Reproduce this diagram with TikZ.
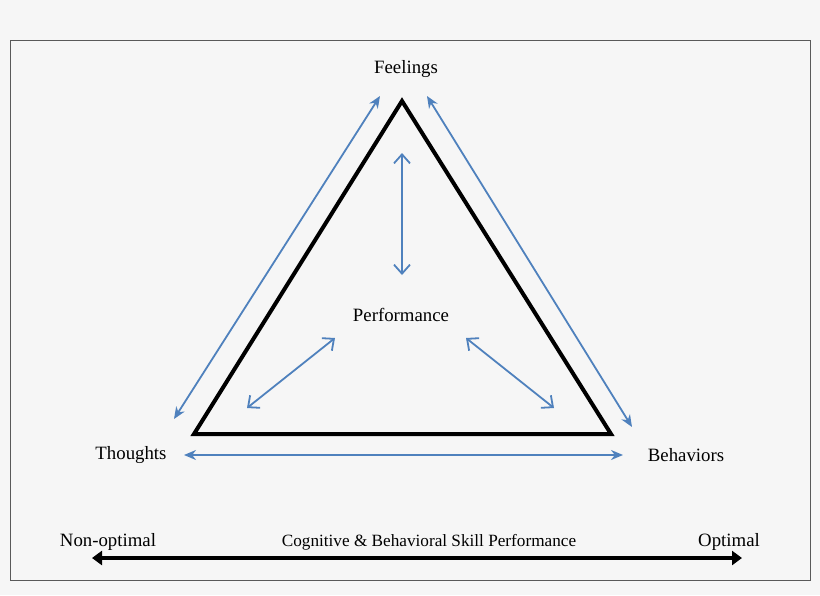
\documentclass[tikz,border=0pt]{standalone}
\usepackage{fontspec}
\setmainfont{Liberation Serif}
\usetikzlibrary{arrows.meta}
\definecolor{linkblue}{HTML}{4F81BD}
\definecolor{paper}{HTML}{F6F6F6}
\tikzset{
  link/.style={draw=linkblue, line width=0.9pt, {Stealth[length=6pt,width=5pt]}-{Stealth[length=6pt,width=5pt]}},
  innerlink/.style={draw=linkblue, line width=0.9pt, {Straight Barb[length=4.5pt,width=8pt]}-{Straight Barb[length=4.5pt,width=8pt]}},
  label/.style={font=\fontsize{9.4}{11}\selectfont, inner sep=0pt}
}

\begin{document}
\begin{tikzpicture}[x=0.5pt, y=-0.5pt]
\useasboundingbox[fill=paper] (0,0) rectangle (820,595);
\draw[gray!70!black, line width=0.5pt] (10,40) rectangle (810,580);
% triangle
\coordinate (feel) at (402,101);
\coordinate (thought) at (194,434);
\coordinate (behave) at (611,434);
\draw[line width=2pt, line join=miter]
(feel) -- (behave) -- (thought) -- cycle;
\node[label] (feelings) at (406,69) {Feelings};
\node[label] (perf) at (401,315) {Performance};
\node[label] (thoughts) at (131,455) {Thoughts};
\node[label] (behaviors) at (686,455) {Behaviors};
% outer links
\coordinate (l1) at (174,419); \coordinate (l2) at (380,96);
\coordinate (r1) at (427,96); \coordinate (r2) at (632,427);
\coordinate (b1) at (184,455); \coordinate (b2) at (623,455);
\draw[link] (l1) -- (l2);
\draw[link] (r1) -- (r2);
\draw[link] (b1) -- (b2);
% inner links
\coordinate (v1) at (402,153); \coordinate (v2) at (402,275);
\coordinate (p1) at (335,338); \coordinate (p2) at (247,408);
\coordinate (q1) at (466,338); \coordinate (q2) at (554,408);
\draw[innerlink] (v1) -- (v2);
\draw[innerlink] (p1) -- (p2);
\draw[innerlink] (q1) -- (q2);
% scale
\node[label] (nonopt) at (108,542) {Non-optimal};
\node[label] (opt) at (729,542) {Optimal};
\node[label, font=\fontsize{8.6}{10}\selectfont] (skill) at (429,542) {Cognitive \& Behavioral Skill Performance};
\coordinate (s1) at (92,558); \coordinate (s2) at (742,558);
\draw[line width=2pt, {Triangle[length=5pt,width=7pt]}-{Triangle[length=5pt,width=7pt]}] (s1) -- (s2);
\end{tikzpicture}
\end{document}
